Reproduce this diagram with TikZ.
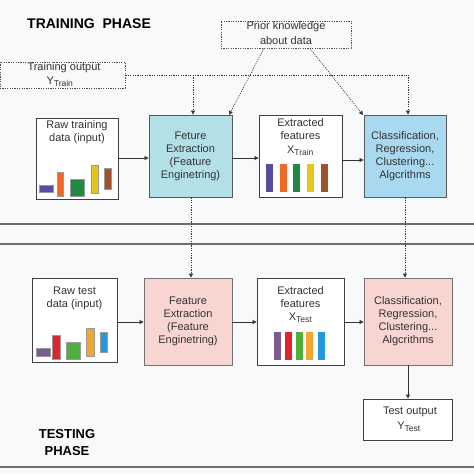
\documentclass[tikz,border=0pt]{standalone}
\usepackage{fontspec}
\setmainfont{Liberation Sans}
\usetikzlibrary{arrows.meta}
\definecolor{bgc}{HTML}{F8F9FA}
\definecolor{lineg}{HTML}{6E6E6E}
\definecolor{teal1}{HTML}{B2E0E6}
\definecolor{sky1}{HTML}{A9D9F0}
\definecolor{pink1}{HTML}{F8D5D0}
\definecolor{bpurple}{HTML}{5B4B9E}
\definecolor{borange}{HTML}{F06A25}
\definecolor{bgreen}{HTML}{1E8A42}
\definecolor{byellow}{HTML}{E6C51E}
\definecolor{bbrown}{HTML}{A0522D}
\definecolor{tpurple}{HTML}{7A5C8E}
\definecolor{tred}{HTML}{E0232F}
\definecolor{tgreen}{HTML}{4FAE3C}
\definecolor{torange}{HTML}{F2A62B}
\definecolor{tblue}{HTML}{2499D8}
\tikzset{
  box/.style={draw=black!75, line width=0.8pt, inner sep=0pt, align=center},
  dbox/.style={draw=black!70, dashed, dash pattern=on 1.2pt off 1.2pt, line width=0.8pt, inner sep=0pt, align=center},
  txt/.style={font=\fontsize{11}{13}\selectfont, text=black!80, align=center, inner sep=0pt},
  arr/.style={-{Triangle[length=4pt,width=4pt]}, line width=0.6pt, black!80},
  darr/.style={arr, dash pattern=on 1.2pt off 1.2pt},
  sep/.style={draw=lineg, line width=1.1pt},
  bar/.style={draw=black!40, line width=0.3pt}
}
\begin{document}
\begin{tikzpicture}[x=1pt,y=-1pt]
\useasboundingbox (0,0) rectangle (474,474);
\fill[bgc] (0,0) rectangle (474,474);

% separators
\draw[sep] (0,224) -- (474,224);
\draw[sep] (0,244) -- (474,244);
\draw[sep] (0,467) -- (474,467);

% titles
\node[font=\bfseries\fontsize{14}{16}\selectfont, anchor=west, inner sep=0pt] (trainT) at (27,24) {TRAINING\ \ PHASE};
\node[font=\bfseries\fontsize{13}{17}\selectfont, align=center, inner sep=0pt] (testT) at (67,443) {TESTING\\PHASE};

% dashed info boxes
\node[dbox, minimum width=125pt, minimum height=26pt] (yt) at (62.5,75) {};
\node[txt] at (64,68) {Training output};
\node[txt] at (60,82) {Y\textsubscript{\fontsize{8.5}{9}\selectfont Train}};
\node[dbox, minimum width=130pt, minimum height=27pt] (pk) at (286,34.5) {};
\node[txt] at (286,27) {Prior knowledge};
\node[txt] at (286,41) {about data};

% training boxes
\node[box, fill=white, minimum width=82pt, minimum height=81pt] (rawA) at (77,158.5) {};
\node[txt] at (77,126) {Raw training};
\node[txt] at (77,139) {data (input)};
\fill[bpurple, draw=black!40] (39,185) rectangle (53,192);
\fill[borange, draw=black!40] (57,172) rectangle (63,196);
\fill[bgreen, draw=black!40] (70,179) rectangle (84,196);
\fill[byellow, draw=black!40] (91,165) rectangle (98,193);
\fill[bbrown, draw=black!40] (104,168) rectangle (111,189);

\node[box, fill=teal1, draw=black!65, minimum width=83pt, minimum height=82pt,
      font=\fontsize{11}{13}\selectfont, text=black!80] (feA) at (190.5,156)
      {Feture\\Extraction\\(Feature\\Enginetring)};

\node[box, fill=white, minimum width=83pt, minimum height=82pt] (efA) at (300.5,156) {};
\node[txt] at (300.5,123) {Extracted};
\node[txt] at (300.5,136) {features};
\node[txt] at (300.5,151) {X\textsubscript{\fontsize{8.5}{9}\selectfont Train}};
\fill[bpurple] (266,164) rectangle (273,192);
\fill[borange] (280,164) rectangle (287,192);
\fill[bgreen] (293,164) rectangle (300,192);
\fill[byellow] (307,164) rectangle (314,192);
\fill[bbrown] (321,164) rectangle (328,192);

\node[box, fill=sky1, draw=black!65, minimum width=82pt, minimum height=82pt,
      font=\fontsize{11}{13}\selectfont, text=black!80] (clA) at (405,156)
      {Classification,\\Regression,\\Clustering...\\Algcrithms};

% testing boxes
\node[box, fill=white, minimum width=85pt, minimum height=84pt] (rawB) at (74.5,320) {};
\node[txt] at (74.5,291) {Raw test};
\node[txt] at (74.5,305) {data (input)};
\fill[tpurple, draw=black!40] (36,348) rectangle (50,356);
\fill[tred, draw=black!40] (52,335) rectangle (60,359);
\fill[tgreen, draw=black!40] (66,342) rectangle (80,359);
\fill[torange, draw=black!40] (86,328) rectangle (94,356);
\fill[tblue, draw=black!40] (100,332) rectangle (107,352);

\node[box, fill=pink1, draw=black!55, minimum width=88pt, minimum height=87pt,
      font=\fontsize{11}{13}\selectfont, text=black!80] (feB) at (188,321.5)
      {Feature\\Extraction\\(Feature\\Enginetring)};

\node[box, fill=white, minimum width=87pt, minimum height=87pt] (efB) at (300.5,321.5) {};
\node[txt] at (300.5,291) {Extracted};
\node[txt] at (300.5,304) {features};
\node[txt] at (300.5,318) {X\textsubscript{\fontsize{8.5}{9}\selectfont Test}};
\fill[tpurple] (274,332) rectangle (281,360);
\fill[tred] (285,332) rectangle (292,360);
\fill[tgreen] (296,332) rectangle (303,360);
\fill[torange] (306,332) rectangle (313,360);
\fill[tblue] (318,332) rectangle (325,360);

\node[box, fill=pink1, draw=black!55, minimum width=88pt, minimum height=87pt,
      font=\fontsize{11}{13}\selectfont, text=black!80] (clB) at (408,321.5)
      {Classification,\\Regression,\\Clustering...\\Algcrithms};

\node[box, fill=white, minimum width=89pt, minimum height=41pt] (yo) at (407.5,419.5) {};
\node[txt] at (410,412) {Test output};
\node[txt] at (409,427) {Y\textsubscript{\fontsize{8.5}{9}\selectfont Test}};

% solid arrows
\draw[arr] (rawA.east |- 0,158) -- (feA.west |- 0,158);
\draw[arr] (feA.east |- 0,158) -- (efA.west |- 0,158);
\draw[arr] (efA.east |- 0,160) -- (clA.west |- 0,160);
\draw[arr] (rawB.east |- 0,322) -- (feB.west |- 0,322);
\draw[arr] (feB.east |- 0,322) -- (efB.west |- 0,322);
\draw[arr] (efB.east |- 0,322) -- (clB.west |- 0,322);
\draw[arr] (clB.south -| 408,0) -- (yo.north -| 408,0);

% dashed connectors
\coordinate (c1) at (193,75);
\coordinate (c2) at (408,75);
\draw[black!80, line width=0.6pt, dash pattern=on 1.2pt off 1.2pt] (yt.east) -- (c2);
\draw[darr] (c1) -- (c1 |- feA.north);
\draw[darr] (c2) -- (c2 |- clA.north);
\draw[darr] (pk.south -| 264,0) -- (229,115);
\draw[darr] (pk.south -| 310,0) -- (363,115);
\draw[darr] (feA.south -| 191,0) -- (feB.north -| 191,0);
\draw[darr] (clA.south -| 405,0) -- (clB.north -| 405,0);
\end{tikzpicture}
\end{document}
